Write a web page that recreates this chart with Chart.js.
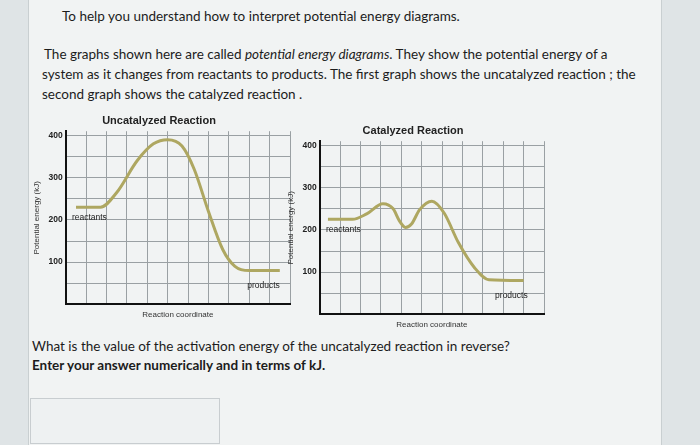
<!DOCTYPE html>
<html>
<head>
<meta charset="utf-8">
<script src="https://cdn.jsdelivr.net/npm/chart.js@4.4.1/dist/chart.umd.min.js"></script>
<style>
  body { margin: 0; width: 700px; height: 445px; overflow: hidden; background: #dfe4e6; font-family: Lato, "Open Sans", sans-serif; }
  .page { position: absolute; left: 28px; top: 0; width: 632px; height: 445px; background: #f1f3f3; border-left: 1px solid #c9cfd1; border-right: 1px solid #c9cfd1; }
  .txt { position: absolute; color: #1c1c1c; font-size: 13.5px; white-space: nowrap; }
  .box { position: absolute; left: 30px; top: 398px; width: 188px; height: 44px; border: 1px solid #c8cdd0; background: #eef1f2; }
  canvas { position: absolute; }
</style>
</head>
<body>
<div class="page"></div>
<div class="txt" style="left:62px;top:8px">To help you understand how to interpret potential energy diagrams.</div>
<div class="txt" style="left:44px;top:46px">The graphs shown here are called <i>potential energy diagrams</i>. They show the potential energy of a</div>
<div class="txt" style="left:42px;top:66px">system as it changes from reactants to products. The first graph shows the uncatalyzed reaction ; the</div>
<div class="txt" style="left:42px;top:86px">second graph shows the catalyzed reaction .</div>
<div class="txt" style="left:32px;top:338px">What is the value of the activation energy of the uncatalyzed reaction in reverse?</div>
<div class="txt" style="left:32px;top:357px;font-weight:bold">Enter your answer numerically and in terms of kJ.</div>
<div class="box"></div>

<canvas id="unc" width="270" height="212" style="left:28px;top:112px"></canvas>
<canvas id="cat" width="270" height="212" style="left:282px;top:122px"></canvas>

<script>
// curve samples (x in grid columns, y in kJ)
const uncX = [0.5, 1.7, 2.5, 3.5, 4.3, 5.0, 5.7, 6.3, 7.0, 7.7, 8.3, 9.0, 10.5]
const uncY = [230, 230, 265, 340, 380, 390, 375, 320, 220, 130, 90, 80, 80]

const catX = [0.4, 1.6, 2.3, 3.1, 3.6, 3.9, 4.2, 4.5, 4.9, 5.5, 6.1, 6.8, 7.6, 8.3, 10.0]
const catY = [225, 225, 238, 262, 250, 222, 206, 214, 248, 268, 240, 170, 110, 82, 80]

const yTicks = [100, 200, 300, 400]

const curveLabels = {
  unc: [{ text: 'reactants', x: 0.3, y: 205 }, { text: 'products', x: 8.9, y: 45 }],
  cat: [{ text: 'reactants', x: 0.3, y: 200 }, { text: 'products', x: 8.6, y: 45 }]
}

const textLabels = {
  id: 'textLabels',
  afterDatasetsDraw(chart, args, opts) {
    const ctx = chart.ctx
    ctx.save()
    ctx.font = '8.5px "Liberation Sans", Arial'
    ctx.fillStyle = '#222'
    ctx.textBaseline = 'middle'
    opts.items.forEach(l => {
      ctx.fillText(l.text, chart.scales.x.getPixelForValue(l.x), chart.scales.y.getPixelForValue(l.y))
    })
    ctx.restore()
  }
}

function makeChart(id, title, xs, ys, labels) {
  const ctx = document.getElementById(id).getContext('2d')
  return new Chart(ctx, {
    type: 'line',
    data: {
      datasets: [{
        data: xs.map((x, i) => ({ x: x, y: ys[i] })),
        borderColor: '#aea761',
        borderWidth: 3,
        pointRadius: 0,
        cubicInterpolationMode: 'monotone',
        fill: false
      }]
    },
    options: {
      responsive: false,
      animation: false,
      layout: { padding: { right: 8 } },
      plugins: {
        legend: { display: false },
        tooltip: { enabled: false },
        title: {
          display: true, text: title, color: '#222',
          font: { family: '"Liberation Sans", Arial', size: 11, weight: 'bold' },
          padding: { top: 2, bottom: 4 }
        },
        textLabels: { items: labels }
      },
      scales: {
        x: {
          type: 'linear', min: 0, max: 11,
          ticks: { stepSize: 1, display: false },
          grid: { color: '#9aa0a3', lineWidth: 1, drawTicks: false },
          border: { color: '#111', width: 2 },
          title: { display: true, text: 'Reaction coordinate', color: '#333', font: { family: '"Liberation Sans", Arial', size: 8 }, padding: { top: 6 } }
        },
        y: {
          min: 0, max: 410,
          afterBuildTicks: axis => { axis.ticks = [0, 50, 100, 150, 200, 250, 300, 350, 400].map(v => ({ value: v })) },
          ticks: {
            color: '#222', font: { family: '"Liberation Sans", Arial', size: 8.5, weight: 'bold' },
            callback: v => yTicks.includes(v) ? v : ''
          },
          grid: { color: '#9aa0a3', lineWidth: 1, drawTicks: false },
          border: { color: '#111', width: 2 },
          title: { display: true, text: 'Potential energy (kJ)', color: '#333', font: { family: '"Liberation Sans", Arial', size: 8 } }
        }
      }
    },
    plugins: [textLabels]
  })
}

makeChart('unc', 'Uncatalyzed Reaction', uncX, uncY, curveLabels.unc)
makeChart('cat', 'Catalyzed Reaction', catX, catY, curveLabels.cat)
</script>
</body>
</html>
